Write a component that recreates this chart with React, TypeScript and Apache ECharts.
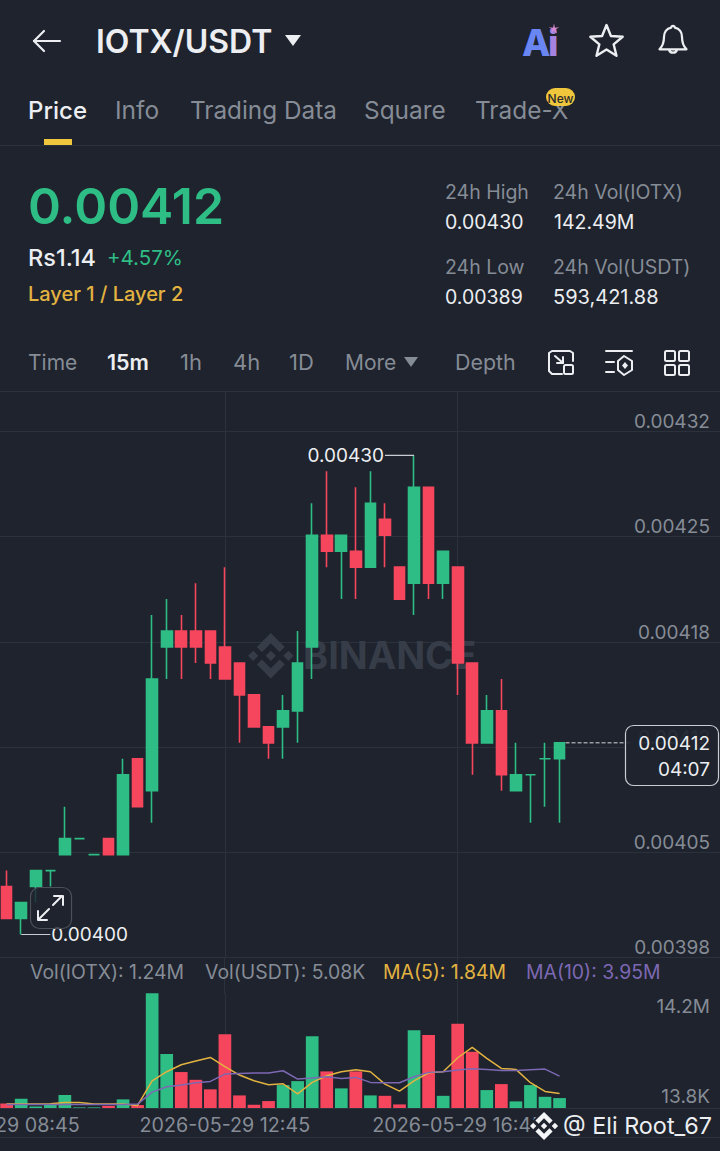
import React, { useEffect, useRef } from "react";
import * as echarts from "echarts";

// ---------- data ----------
// [open, close, low, high], 15m candles starting 08:45 + 1 step
const candles: number[][] = [
  [0.00403, 0.00401, 0.00401, 0.00404],
  [0.00401, 0.00402, 0.004, 0.00402],
  [0.00403, 0.00404, 0.00402, 0.00404],
  [0.00404, 0.00404, 0.00403, 0.00404],
  [0.00405, 0.00406, 0.00405, 0.00408],
  [0.00406, 0.00406, 0.00406, 0.00406],
  [0.00405, 0.00405, 0.00405, 0.00405],
  [0.00406, 0.00405, 0.00405, 0.00406],
  [0.00405, 0.0041, 0.00405, 0.00411],
  [0.00411, 0.00408, 0.00408, 0.00411],
  [0.00409, 0.00416, 0.00407, 0.0042],
  [0.00418, 0.00419, 0.00416, 0.00421],
  [0.00419, 0.00418, 0.00416, 0.0042],
  [0.00419, 0.00418, 0.00417, 0.00422],
  [0.00419, 0.00417, 0.00416, 0.00419],
  [0.00418, 0.00416, 0.00416, 0.00423],
  [0.00417, 0.00415, 0.00412, 0.00417],
  [0.00415, 0.00413, 0.00413, 0.00415],
  [0.00413, 0.00412, 0.00411, 0.00413],
  [0.00413, 0.00414, 0.00411, 0.00415],
  [0.00414, 0.00417, 0.00412, 0.00419],
  [0.00418, 0.00425, 0.00416, 0.00427],
  [0.00425, 0.00424, 0.00423, 0.00429],
  [0.00424, 0.00425, 0.00421, 0.00425],
  [0.00424, 0.00423, 0.00421, 0.00428],
  [0.00423, 0.00427, 0.00423, 0.00429],
  [0.00426, 0.00425, 0.00423, 0.00427],
  [0.00423, 0.00421, 0.00421, 0.00423],
  [0.00422, 0.00428, 0.0042, 0.0043],
  [0.00428, 0.00422, 0.00421, 0.00428],
  [0.00422, 0.00424, 0.00421, 0.00424],
  [0.00423, 0.00417, 0.00415, 0.00423],
  [0.00417, 0.00412, 0.0041, 0.00417],
  [0.00412, 0.00414, 0.00412, 0.00415],
  [0.00414, 0.0041, 0.00409, 0.00416],
  [0.00409, 0.0041, 0.00409, 0.00412],
  [0.0041, 0.0041, 0.00407, 0.0041],
  [0.00411, 0.00411, 0.00408, 0.00412],
  [0.00411, 0.00412, 0.00407, 0.00412],
];
// volumes in millions of IOTX
const volumes = [
  0.56, 1.15, 0.19, 0.5, 1.61, 0.09, 0.09, 0.28, 1.08, 0.37, 14.2, 6.69, 4.46, 3.5, 2.32, 9.12,
  1.57, 0.41, 0.87, 2.85, 3.34, 8.88, 4.54, 2.44, 4.54, 1.57, 1.52, 0.46, 9.62, 9.04, 1.52, 10.44,
  6.97, 2.23, 2.97, 0.83, 2.85, 1.4, 1.24,
];
const ma5 = [
  0.5, 0.5, 0.5, 0.54, 0.7, 0.7, 0.5, 0.5, 0.5, 0.33, 3.38, 4.5, 5.36, 5.82, 6.27, 5.12, 4.09, 3.38,
  2.89, 3.01, 1.77, 3.18, 4.0, 4.5, 4.75, 4.5, 2.97, 2.1, 3.38, 4.37, 4.5, 6.23, 7.51, 6.15, 4.91,
  4.79, 3.14, 2.06, 1.82,
];
const ma10 = [
  0.45, 0.45, 0.45, 0.45, 0.45, 0.45, 0.45, 0.45, 0.45, 0.5, 1.98, 2.64, 2.85, 3.14, 3.3, 4.21, 4.29,
  4.33, 4.33, 4.62, 3.59, 3.71, 3.88, 3.67, 3.8, 3.18, 3.14, 3.14, 3.88, 4.42, 4.5, 4.7, 4.87, 4.79,
  4.66, 4.66, 4.75, 4.83, 3.96,
];
const lastPrice = 0.00412;
const highPrice = 0.0043;
const lowPrice = 0.004;
const priceMin = 0.0039859;
const priceMax = 0.0043403;
const priceTicks = [0.0039859, 0.0040517, 0.0041174, 0.0041832, 0.0042495, 0.0043153];
const priceTickLabels = ["0.00398", "0.00405", "0.00412", "0.00418", "0.00425", "0.00432"];
const volTicks = [0.0138, 14.2];
const volTickLabels = ["13.8K", "14.2M"];

const SLOTS = 51;
const STEP = 16;
function slotLabel(i: number) {
  const m = 8 * 60 + 45 + i * 15;
  const hh = String(Math.floor(m / 60)).padStart(2, "0");
  const mm = String(m % 60).padStart(2, "0");
  return `2026-05-29 ${hh}:${mm}`;
}
const categories = Array.from({ length: SLOTS }, (_, i) => slotLabel(i));
const showSlot = (i: number) => i % STEP === 0 && i < 40;

// ---------- style ----------
const BG = "#1e232d";
const GRID = "#2c323c";
const GREEN = "#2ebd85";
const RED = "#f6465d";
const GOLD = "#e3b341";
const PURPLE = "#7d68b3";
const MUTED = "#868c96";
const WHITE = "#eceef1";
const FONT = "Inter";

const BINANCE_D =
  "M16.624 13.9202l2.7175 2.7154-7.353 7.353-7.353-7.352 2.7175-2.7164 4.6355 4.6595 4.6356-4.6595zm4.6366-4.6366L24 12l-2.7154 2.7164L18.5682 12l2.6924-2.7164zm-9.272.001l2.7163 2.6914-2.7164 2.7174v-.001L9.2721 12l2.7164-2.7154zm-9.2722-.001L5.4088 12l-2.6914 2.6924L0 12l2.7164-2.7164zM11.9885.0115l7.353 7.329-2.7174 2.7154-4.6356-4.6356-4.6355 4.6595-2.7174-2.7154 7.353-7.353z";
const BELL_D =
  "M12 2.5a1.2 1.2 0 0 0-1.2 1.2C7.6 4.3 6 7 6 10c0 4.6-1.2 6.4-3 8.2h18c-1.8-1.8-3-3.6-3-8.2 0-3-1.6-5.7-4.8-6.3A1.2 1.2 0 0 0 12 2.5zM9.3 18.4a2.8 2.8 0 0 0 5.4 0";
echarts.graphic.registerShape("binanceLogo", echarts.graphic.extendPath(BINANCE_D, {}) as any);
echarts.graphic.registerShape("bellIcon", echarts.graphic.extendPath(BELL_D, {}) as any);

function tx(text: string, x: number, y: number, size: number, fill: string, weight: any = 400, align = "left", z = 50) {
  return {
    type: "text",
    x,
    y,
    z,
    silent: true,
    style: { text, fill, fontSize: size, fontWeight: weight, fontFamily: FONT, align, verticalAlign: "middle" },
  };
}
const stroke = (c = WHITE, w = 2.2) => ({ stroke: c, lineWidth: w, fill: "none", lineCap: "round", lineJoin: "round" });
function pl(points: number[][], c = WHITE, w = 2.2, z = 50) {
  return { type: "polyline", z, silent: true, shape: { points }, style: stroke(c, w) };
}
function hline(x1: number, x2: number, y: number, c = GRID, z = 0) {
  return { type: "line", z, silent: true, shape: { x1, y1: y, x2, y2: y }, style: { stroke: c, lineWidth: 1 } };
}
function vline(x: number, y1: number, y2: number, c = GRID, z = 0) {
  return { type: "line", z, silent: true, shape: { x1: x, y1, x2: x, y2 }, style: { stroke: c, lineWidth: 1 } };
}
function rr(x: number, y: number, width: number, height: number, r: number, style: any, z = 50) {
  return { type: "rect", z, silent: true, shape: { x, y, width, height, r }, style };
}
function starPoints(cx: number, cy: number, R: number, r: number) {
  const pts: number[][] = [];
  for (let i = 0; i < 10; i++) {
    const a = -Math.PI / 2 + (i * Math.PI) / 5;
    const d = i % 2 ? r : R;
    pts.push([cx + d * Math.cos(a), cy + d * Math.sin(a)]);
  }
  return pts;
}

function buildGraphics() {
  return [
    // header
    pl([[34, 41], [60, 41]]),
    pl([[44, 31], [34, 41], [44, 51]]),
    tx("IOTX/USDT", 96, 41, 32, WHITE, 600),
    { type: "polygon", z: 50, silent: true, shape: { points: [[285, 35], [301, 35], [293, 46]] }, style: { fill: WHITE } },
    tx("A", 522, 42, 37, "#6a86f2", 800),
    tx("i", 548, 42, 37, "#a583e0", 800),
    { type: "polygon", z: 51, silent: true, shape: { points: starPoints(554, 29, 5.5, 1.6) }, style: { fill: "#d68ad0" } },
    { type: "polygon", z: 50, silent: true, shape: { points: starPoints(606.5, 42, 17, 7.5) }, style: stroke(WHITE, 2.4) },
    { type: "bellIcon", z: 50, silent: true, x: 655, y: 22, scaleX: 1.5, scaleY: 1.5, style: { ...stroke(WHITE, 1.5) } },
    // tabs
    tx("Price", 28, 110, 24, WHITE, 500),
    tx("Info", 115, 110, 24.5, MUTED),
    tx("Trading Data", 190, 110, 24.3, MUTED),
    tx("Square", 364, 110, 24.4, MUTED),
    tx("Trade-X", 475, 110, 24.4, MUTED),
    rr(546, 88, 29, 18, 9, { fill: "#f0c63d" }, 51),
    tx("New", 560.5, 98, 12, "#2a2a2a", 500, "center", 52),
    rr(44, 139, 28, 6, 0, { fill: "#f0c63d" }),
    hline(0, 720, 145.5),
    // price panel
    tx("0.00412", 28, 206, 50, GREEN, 600),
    tx("Rs1.14", 28, 257, 23.5, WHITE, 500),
    tx("+4.57%", 107, 257, 20.5, GREEN),
    tx("Layer 1 / Layer 2", 28, 294, 20, GOLD, 500),
    tx("24h High", 445, 192, 19.5, MUTED),
    tx("0.00430", 445, 222, 19.5, WHITE),
    tx("24h Low", 445, 267, 19.5, MUTED),
    tx("0.00389", 445, 297, 19.5, WHITE),
    tx("24h Vol(IOTX)", 553, 192, 19.5, MUTED),
    tx("142.49M", 554, 222, 19.5, WHITE),
    tx("24h Vol(USDT)", 553, 267, 19.5, MUTED),
    tx("593,421.88", 553, 297, 20, WHITE),
    // toolbar
    tx("Time", 28, 362, 21, MUTED),
    tx("15m", 107, 362, 21.5, WHITE, 600),
    tx("1h", 180, 362, 22, MUTED),
    tx("4h", 233, 362, 22, MUTED),
    tx("1D", 289, 362, 22, MUTED),
    tx("More", 345, 362, 21, MUTED),
    { type: "polygon", z: 50, silent: true, shape: { points: [[404, 357], [418, 357], [411, 367]] }, style: { fill: MUTED } },
    tx("Depth", 455, 362, 21.4, MUTED),
    pl([[562, 374], [552, 374], [549, 371], [549, 353], [552, 351], [570, 351], [573, 353], [573, 361]], WHITE, 2),
    pl([[555, 356], [563, 363]], WHITE, 2),
    pl([[563, 357], [563, 363], [557, 363]], WHITE, 2),
    rr(564, 365, 9, 9, 1.5, stroke(WHITE, 2)),
    pl([[606, 351], [632, 351]], WHITE, 2),
    pl([[606, 362], [614, 362]], WHITE, 2),
    pl([[606, 372], [614, 372]], WHITE, 2),
    { type: "polygon", z: 50, silent: true, shape: { points: [[624, 356], [632, 361], [632, 370], [624, 375], [618, 370], [618, 361]] }, style: stroke(WHITE, 2) },
    { type: "polygon", z: 50, silent: true, shape: { points: [[625, 362], [628, 365.5], [625, 369], [622, 365.5]] }, style: { fill: WHITE } },
    rr(665, 351, 10, 10, 1.5, stroke(WHITE, 2)),
    rr(679, 351, 10, 10, 1.5, stroke(WHITE, 2)),
    rr(665, 365, 10, 10, 1.5, stroke(WHITE, 2)),
    rr(679, 365, 10, 10, 1.5, stroke(WHITE, 2)),
    // frame lines
    hline(0, 720, 391.5),
    hline(0, 720, 1137.5),
    vline(224.5, 957, 994),
    vline(457.5, 957, 994),
    // watermark
    { type: "binanceLogo", z: 1, silent: true, x: 248, y: 633, scaleX: 1.9, scaleY: 1.9, style: { fill: "#373d48" } },
    tx("BINANCE", 303, 655, 38, "#373d48", 700, "left", 1),
    // last-price box
    rr(625.5, 725.5, 93, 60, 8, { fill: "rgba(30,35,45,0.9)", stroke: "#c9ccd1", lineWidth: 1.2 }, 40),
    tx("0.00412", 710, 743, 19, WHITE, 400, "right", 41),
    tx("04:07", 710, 769, 19, WHITE, 400, "right", 41),
    // expand button
    rr(30.5, 887.5, 41, 41, 9, { fill: "rgba(30,35,45,0.82)", stroke: "#4a4f58", lineWidth: 1.2 }, 40),
    pl([[39, 919], [49, 909]], WHITE, 2, 41),
    pl([[38, 911], [38, 920], [47, 920]], WHITE, 2, 41),
    pl([[53, 905], [62, 896]], WHITE, 2, 41),
    pl([[54, 896], [63, 896], [63, 905]], WHITE, 2, 41),
    // volume legend
    tx("Vol(IOTX): 1.24M", 30, 972, 19.4, MUTED),
    tx("Vol(USDT): 5.08K", 205, 972, 19.4, MUTED),
    tx("MA(5): 1.84M", 383, 972, 19.4, GOLD),
    tx("MA(10): 3.95M", 526, 972, 19.4, PURPLE),
    // author stamp
    { type: "binanceLogo", z: 59, silent: true, x: 530, y: 1112, scaleX: 1.17, scaleY: 1.17, style: { fill: BG, stroke: BG, lineWidth: 3 } },
    { type: "binanceLogo", z: 60, silent: true, x: 530, y: 1112, scaleX: 1.17, scaleY: 1.17, style: { fill: "#f4f5f6" } },
    tx("@ Eli Root_67", 563, 1125, 23.4, WHITE, 400, "left", 60),
  ];
}

function buildOption(): any {
  const left = -15.175;
  const width = 742.05;
  const labelMargin = 16.9;
  const up = (c: number[]) => c[1] >= c[0];
  const callout = (value: number, from: number, to: number, labelAt: number, position: string) =>
    categories.map((_, i) => {
      if (i < from || i > to) return null;
      if (i === labelAt)
        return {
          value,
          label: { show: true, position, distance: 1, formatter: value.toFixed(5), color: WHITE, fontSize: 19, fontFamily: FONT },
        };
      return value;
    });
  const xBase = {
    type: "category",
    data: categories,
    boundaryGap: true,
    axisTick: { show: false, alignWithLabel: true, interval: (i: number) => showSlot(i) },
    splitLine: { show: true, alignWithLabel: true, interval: (i: number) => showSlot(i), lineStyle: { color: GRID, width: 1 } },
  };
  return {
    animation: false,
    backgroundColor: BG,
    graphic: { elements: buildGraphics() },
    grid: [
      { left, width, top: 391, height: 566, outerBoundsMode: "none" },
      { left, width, top: 993.3, height: 114.7, outerBoundsMode: "none" },
    ],
    xAxis: [
      { ...xBase, gridIndex: 0, axisLabel: { show: false }, axisLine: { show: false } },
      {
        ...xBase,
        gridIndex: 1,
        axisLine: { show: true, lineStyle: { color: GRID, width: 1 } },
        axisLabel: {
          show: true,
          interval: (i: number) => showSlot(i),
          color: MUTED,
          fontSize: 19.7,
          fontFamily: FONT,
          margin: 7,
          showMinLabel: true,
        },
      },
    ],
    yAxis: [
      {
        type: "value",
        gridIndex: 0,
        position: "right",
        min: priceMin,
        max: priceMax,
        axisLine: { show: false },
        axisTick: { show: false, customValues: priceTicks },
        splitLine: { show: true, lineStyle: { color: GRID, width: 1 } },
        axisLabel: {
          show: true,
          inside: true,
          customValues: priceTicks,
          margin: labelMargin,
          align: "right",
          verticalAlign: "bottom",
          color: MUTED,
          fontSize: 19,
          fontFamily: FONT,
          formatter: (v: number) => priceTickLabels[priceTicks.findIndex((t) => Math.abs(t - v) < 1e-8)] ?? "",
        },
      },
      {
        type: "value",
        gridIndex: 1,
        position: "right",
        min: volTicks[0],
        max: volTicks[1],
        axisLine: { show: false },
        axisTick: { show: false, customValues: volTicks },
        splitLine: { show: false },
        axisLabel: {
          show: true,
          inside: true,
          customValues: volTicks,
          margin: labelMargin,
          align: "right",
          verticalAlignMinLabel: "bottom",
          verticalAlignMaxLabel: "top",
          padding: [4, 0, 2, 0],
          color: MUTED,
          fontSize: 19,
          fontFamily: FONT,
          formatter: (v: number) => volTickLabels[volTicks.findIndex((t) => Math.abs(t - v) < 1e-6)] ?? "",
        },
      },
    ],
    series: [
      {
        name: "Last price",
        type: "line",
        xAxisIndex: 0,
        yAxisIndex: 0,
        z: 1,
        symbol: "none",
        silent: true,
        data: categories.map((_, i) => (i >= 39 && i <= 44 ? lastPrice : null)),
        lineStyle: { color: "#d8dadd", width: 1, type: [4, 2] },
      },
      {
        name: "IOTX/USDT",
        type: "candlestick",
        xAxisIndex: 0,
        yAxisIndex: 0,
        z: 2,
        barWidth: 11.1,
        data: [["-", "-", "-", "-"], ...candles],
        itemStyle: {
          color: GREEN,
          color0: RED,
          borderColor: GREEN,
          borderColor0: RED,
          borderColorDoji: GREEN,
          borderWidth: 1.6,
        },
      },
      {
        name: "High",
        type: "line",
        xAxisIndex: 0,
        yAxisIndex: 0,
        z: 3,
        symbol: "circle",
        symbolSize: 0,
        showSymbol: true,
        showAllSymbol: true,
        silent: true,
        data: callout(highPrice, 27, 29, 27, "left"),
        lineStyle: { color: "#c9cdd3", width: 1.2 },
      },
      {
        name: "Low",
        type: "line",
        xAxisIndex: 0,
        yAxisIndex: 0,
        z: 3,
        symbol: "circle",
        symbolSize: 0,
        showSymbol: true,
        showAllSymbol: true,
        silent: true,
        data: callout(lowPrice, 2, 4, 4, "right"),
        lineStyle: { color: "#c9cdd3", width: 1.2 },
      },
      {
        name: "Vol",
        type: "bar",
        xAxisIndex: 1,
        yAxisIndex: 1,
        z: 2,
        barWidth: 12.7,
        data: [
          null,
          ...volumes.map((v, i) => ({
            value: v,
            itemStyle: { color: up(candles[i]) ? GREEN : RED },
          })),
        ],
      },
      {
        name: "MA(5)",
        type: "line",
        xAxisIndex: 1,
        yAxisIndex: 1,
        z: 3,
        symbol: "none",
        silent: true,
        data: [null, ...ma5],
        lineStyle: { color: GOLD, width: 1.5 },
      },
      {
        name: "MA(10)",
        type: "line",
        xAxisIndex: 1,
        yAxisIndex: 1,
        z: 3,
        symbol: "none",
        silent: true,
        data: [null, ...ma10],
        lineStyle: { color: PURPLE, width: 1.5 },
      },
    ],
  };
}

export default function App() {
  const ref = useRef<HTMLDivElement | null>(null);
  useEffect(() => {
    document.body.style.margin = "0";
    document.body.style.background = BG;
    const chart = echarts.init(ref.current!, undefined, { renderer: "svg", width: 720, height: 1151 });
    chart.setOption(buildOption());
    return () => chart.dispose();
  }, []);
  return <div ref={ref} style={{ position: "absolute", left: 0, top: 0, width: 720, height: 1151 }} />;
}
